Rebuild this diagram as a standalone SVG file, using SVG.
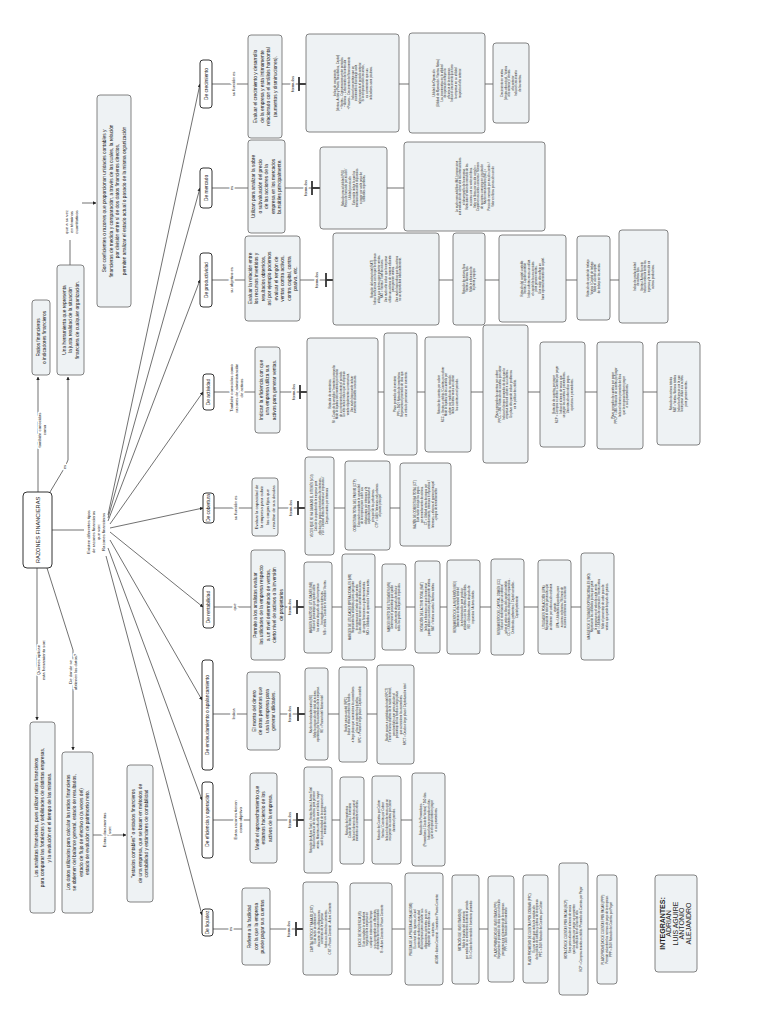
<svg xmlns="http://www.w3.org/2000/svg" width="768" height="1024" viewBox="0 0 768 1024">
<defs>
<marker id="ah" viewBox="0 0 10 10" refX="9" refY="5" markerWidth="5" markerHeight="5" orient="auto"><path d="M0,0 L10,5 L0,10 z" fill="#222"/></marker>
</defs>
<style>
rect.b{fill:#eef2f4;stroke:#666;stroke-width:0.8}
rect.w{fill:#fff;stroke:#333;stroke-width:1}
.c line,.c path{stroke:#333;stroke-width:0.7;fill:none}
.c .a{marker-end:url(#ah)}
.c .k{stroke-width:1.8}
text{font-family:"Liberation Sans",Arial,sans-serif;text-anchor:middle;fill:#222}
.m{font-size:5.6px}
.d{font-size:4.8px}
.l{font-size:4.2px;paint-order:stroke;stroke:#fff;stroke-width:3px}
.f{font-size:2.8px}
.g{font-size:7px}
</style>
<rect width="768" height="1024" fill="#fff"/>
<g class="c" id="connectors">
<path class="a" d="M38,492 V377"/>
<path class="a" d="M50,492 L65,467 L68,460 V377"/>
<path d="M70,265 V240"/>
<path class="a" d="M82,203 H96"/>
<path class="a" d="M37,568 V720"/>
<path class="a" d="M47,568 L73,650 V750"/>
<path class="a" d="M93,835 H126"/>
<path d="M52,530 H84"/>
<line class="a" x1="108" y1="515" x2="200" y2="84"/>
<line class="a" x1="108" y1="518" x2="200" y2="188"/>
<line class="a" x1="108" y1="521" x2="200" y2="280"/>
<line class="a" x1="110" y1="524" x2="203" y2="392"/>
<line class="a" x1="110" y1="528" x2="203" y2="508"/>
<line class="a" x1="110" y1="532" x2="203" y2="607"/>
<line class="a" x1="110" y1="540" x2="202" y2="700"/>
<line class="a" x1="108" y1="548" x2="202" y2="800"/>
<line class="a" x1="106" y1="556" x2="202" y2="915"/>
<line x1="212" y1="84" x2="493" y2="84"/>
<line x1="212" y1="188" x2="404" y2="188"/>
<line x1="212" y1="280" x2="619" y2="280"/>
<line x1="214" y1="392" x2="657" y2="392"/>
<line x1="214" y1="508" x2="400" y2="508"/>
<line x1="214" y1="607" x2="581" y2="607"/>
<line x1="213" y1="714" x2="377" y2="714"/>
<line x1="213" y1="820" x2="412" y2="820"/>
<line x1="213" y1="929" x2="597" y2="929"/>
<line class="k" x1="299" y1="84" x2="306" y2="84"/><line class="k" x1="299" y1="77" x2="299" y2="91"/>
<line class="k" x1="312" y1="188" x2="320" y2="188"/><line class="k" x1="312" y1="181" x2="312" y2="195"/>
<line class="k" x1="326" y1="280" x2="333" y2="280"/><line class="k" x1="326" y1="273" x2="326" y2="287"/>
<line class="k" x1="300" y1="392" x2="307" y2="392"/><line class="k" x1="300" y1="385" x2="300" y2="399"/>
<line class="k" x1="298" y1="508" x2="305" y2="508"/><line class="k" x1="298" y1="501" x2="298" y2="515"/>
<line class="k" x1="297" y1="607" x2="304" y2="607"/><line class="k" x1="297" y1="600" x2="297" y2="614"/>
<line class="k" x1="298" y1="714" x2="305" y2="714"/><line class="k" x1="298" y1="707" x2="298" y2="721"/>
<line class="k" x1="297" y1="820" x2="304" y2="820"/><line class="k" x1="297" y1="813" x2="297" y2="827"/>
<line class="k" x1="296" y1="929" x2="303" y2="929"/><line class="k" x1="296" y1="922" x2="296" y2="936"/>
</g>
<g id="labels">
<text class="l" transform="translate(42,430) rotate(-90)"><tspan x="0" dy="-1.2">también conocidas</tspan><tspan x="0" dy="5">como</tspan></text>
<text class="l" transform="translate(66,467) rotate(-90)">es</text>
<text class="l" transform="translate(72,222) rotate(-90)"><tspan x="0" dy="-3.7">que a su vez</tspan><tspan x="0" dy="5">en términos</tspan><tspan x="0" dy="5">cuantitativos</tspan></text>
<text class="l" transform="translate(41,660) rotate(-90)"><tspan x="0" dy="-1.2">Quienes aplican</tspan><tspan x="0" dy="5">esta herramienta son:</tspan></text>
<text class="l" transform="translate(73,672) rotate(-90)"><tspan x="0" dy="-1.2">De donde se</tspan><tspan x="0" dy="5">obtienen los datos?</tspan></text>
<text class="l" transform="translate(107,830) rotate(-90)"><tspan x="0" dy="-1.2">Estos documentos</tspan><tspan x="0" dy="5">son:</tspan></text>
<text class="l" transform="translate(96,532) rotate(-90)"><tspan x="0" dy="-6.2">Existen diferentes tipos</tspan><tspan x="0" dy="5">de razones financieras</tspan><tspan x="0" dy="5">que son:</tspan><tspan x="0" dy="5">Razones financieras</tspan></text>
<text class="l" transform="translate(235,84) rotate(-90)">su función es</text>
<text class="l" transform="translate(233,188) rotate(-90)">es</text>
<text class="l" transform="translate(233,280) rotate(-90)">su objetivo es</text>
<text class="l" transform="translate(237,388) rotate(-90)"><tspan x="0" dy="-3.7">También conocidas como</tspan><tspan x="0" dy="5">razones de administración</tspan><tspan x="0" dy="5">de activos</tspan></text>
<text class="l" transform="translate(237,508) rotate(-90)">su función es</text>
<text class="l" transform="translate(236,607) rotate(-90)">que</text>
<text class="l" transform="translate(235,714) rotate(-90)">Indica</text>
<text class="l" transform="translate(238,820) rotate(-90)"><tspan x="0" dy="-1.2">Estas razones tienen</tspan><tspan x="0" dy="5">como objetivo</tspan></text>
<text class="l" transform="translate(232,929) rotate(-90)">es</text>
<text class="l" transform="translate(294,84) rotate(-90)">formulas</text>
<text class="l" transform="translate(307,188) rotate(-90)">formulas</text>
<text class="l" transform="translate(318,280) rotate(-90)">formulas</text>
<text class="l" transform="translate(295,392) rotate(-90)">formulas</text>
<text class="l" transform="translate(292,508) rotate(-90)">formulas</text>
<text class="l" transform="translate(291,607) rotate(-90)">formulas</text>
<text class="l" transform="translate(291,714) rotate(-90)">formulas</text>
<text class="l" transform="translate(291,820) rotate(-90)">formulas</text>
<text class="l" transform="translate(290,929) rotate(-90)">formulas</text>
</g>
<g id="razones"><rect class="w" x="23" y="492" width="29" height="76" rx="4"/><text class="m" transform="translate(37.5,530) rotate(-90)" dy="2">RAZONES FINANCIERAS</text></g>
<g id="ratios"><rect class="b" x="32" y="300" width="18" height="75" rx="3"/><text class="d" transform="translate(41,337.5) rotate(-90)"><tspan x="0" dy="-1.5">Ratios financieros</tspan><tspan x="0" dy="6.5">o indicadores financieros</tspan></text></g>
<g id="herramienta"><rect class="b" x="57" y="265" width="27" height="110" rx="3"/><text class="d" transform="translate(70.5,320) rotate(-90)"><tspan x="0" dy="-4.8">Una herramienta que representa</tspan><tspan x="0" dy="6.5">la justa realidad de la situación</tspan><tspan x="0" dy="6.5">financiera de cualquier organización.</tspan></text></g>
<g id="coeficientes"><rect class="b" x="97" y="95" width="34" height="212" rx="3"/><text class="d" transform="translate(114,201) rotate(-90)"><tspan x="0" dy="-8">Son coeficientes o razones que proporcionan unidades contables y</tspan><tspan x="0" dy="6.5">financieras de medida y comparación, a través de las cuales, la relación</tspan><tspan x="0" dy="6.5">por división entre sí de dos datos financieros directos,</tspan><tspan x="0" dy="6.5">permiten analizar el estado actual o pasado de la misma organización</tspan></text></g>
<g id="analistas"><rect class="b" x="30" y="722" width="25" height="191" rx="3"/><text class="d" transform="translate(42.5,817.5) rotate(-90)"><tspan x="0" dy="-4.8">Los analistas financieros, pues utilizan ratios financieros</tspan><tspan x="0" dy="6.5">para comparar las fortalezas y debilidades de distintas empresas,</tspan><tspan x="0" dy="6.5">y la evolución en el tiempo de las mismas.</tspan></text></g>
<g id="datos"><rect class="b" x="62" y="752" width="31" height="161" rx="3"/><text class="d" transform="translate(77.5,832.5) rotate(-90)"><tspan x="0" dy="-8">Los datos utilizados para calcular las ratios financieras</tspan><tspan x="0" dy="6.5">se obtienen del balance general, estado de resultados,</tspan><tspan x="0" dy="6.5">estado de flujo de efectivo o (a veces del)</tspan><tspan x="0" dy="6.5">estado de evolución de patrimonio neto.</tspan></text></g>
<g id="contables"><rect class="b" x="127" y="765" width="26" height="137" rx="3"/><text class="d" transform="translate(140,833.5) rotate(-90)"><tspan x="0" dy="-4.8">"estados contables" o estados financieros</tspan><tspan x="0" dy="6.5">de una empresa, que se basan en métodos de</tspan><tspan x="0" dy="6.5">contabilidad y estándares de contabilidad</tspan></text></g>
<g id="p-crecimiento"><rect class="w" x="200" y="60" width="12" height="48" rx="3"/><text class="d" transform="translate(206,84) rotate(-90)" dy="1.7">De crecimiento</text></g>
<g id="p-mercado"><rect class="w" x="200" y="168" width="12" height="40" rx="3"/><text class="d" transform="translate(206,188) rotate(-90)" dy="1.7">De mercado</text></g>
<g id="p-productividad"><rect class="w" x="200" y="253" width="12" height="54" rx="3"/><text class="d" transform="translate(206,280) rotate(-90)" dy="1.7">De productividad</text></g>
<g id="p-actividad"><rect class="w" x="203" y="374" width="11" height="36" rx="3"/><text class="d" transform="translate(208.5,392) rotate(-90)" dy="1.7">De actividad</text></g>
<g id="p-cobertura"><rect class="w" x="203" y="493" width="11" height="30" rx="3"/><text class="d" transform="translate(208.5,508) rotate(-90)" dy="1.7">De cobertura</text></g>
<g id="p-rentabilidad"><rect class="w" x="203" y="586" width="11" height="42" rx="3"/><text class="d" transform="translate(208.5,607) rotate(-90)" dy="1.7">De rentabilidad</text></g>
<g id="p-endeudamiento"><rect class="w" x="202" y="660" width="11" height="110" rx="3"/><text class="d" transform="translate(207.5,715) rotate(-90)" dy="1.7">De endeudamiento o apalancamiento</text></g>
<g id="p-eficiencia"><rect class="w" x="202" y="782" width="11" height="76" rx="3"/><text class="d" transform="translate(207.5,820) rotate(-90)" dy="1.7">De eficiencia y operación</text></g>
<g id="p-liquidez"><rect class="w" x="202" y="909" width="11" height="27" rx="3"/><text class="d" transform="translate(207.5,922.5) rotate(-90)" dy="1.7">De liquidez</text></g>
<g id="d-crecimiento"><rect class="b" x="248" y="35" width="34" height="103" rx="3"/><text class="d" transform="translate(265,86.5) rotate(-90)"><tspan x="0" dy="-8">Evaluar el crecimiento y desarrollo</tspan><tspan x="0" dy="6.5">de la empresa y esta íntimamente</tspan><tspan x="0" dy="6.5">relacionado con el análisis horizontal</tspan><tspan x="0" dy="6.5">(aumentos y disminuciones).</tspan></text></g>
<g id="d-mercado"><rect class="b" x="248" y="140" width="37" height="93" rx="3"/><text class="d" transform="translate(266.5,186.5) rotate(-90)"><tspan x="0" dy="-11.3">Utilizan para analizar la sobre</tspan><tspan x="0" dy="6.5">o subvaluación del precio</tspan><tspan x="0" dy="6.5">de las acciones de la</tspan><tspan x="0" dy="6.5">empresa en los mercados</tspan><tspan x="0" dy="6.5">bursátiles principalmente.</tspan></text></g>
<g id="d-productividad"><rect class="b" x="245" y="236" width="55" height="85" rx="3"/><text class="d" transform="translate(272.5,278.5) rotate(-90)"><tspan x="0" dy="-21">Evaluar la relación entre</tspan><tspan x="0" dy="6.5">los recursos invertidos y</tspan><tspan x="0" dy="6.5">resultados obtenidos,</tspan><tspan x="0" dy="6.5">así por ejemplo podemos</tspan><tspan x="0" dy="6.5">evaluar el rengón de</tspan><tspan x="0" dy="6.5">ventas contra activos,</tspan><tspan x="0" dy="6.5">contra capital, contra</tspan><tspan x="0" dy="6.5">pasivo, etc.</tspan></text></g>
<g id="d-actividad"><rect class="b" x="255" y="347" width="25" height="86" rx="3"/><text class="d" transform="translate(267.5,390) rotate(-90)"><tspan x="0" dy="-4.8">Indican la eficiencia con que</tspan><tspan x="0" dy="6.5">una empresa utiliza sus</tspan><tspan x="0" dy="6.5">activos para generar ventas.</tspan></text></g>
<g id="d-cobertura"><rect class="b" x="252" y="478" width="26" height="58" rx="3"/><text class="d" style="font-size:4.2px" transform="translate(265,507) rotate(-90)"><tspan x="0" dy="-7.4">Evaluar la capacidad de</tspan><tspan x="0" dy="5.8">la empresa para cubrir</tspan><tspan x="0" dy="5.8">los cargos fijos que</tspan><tspan x="0" dy="5.8">resultan de sus deudas</tspan></text></g>
<g id="d-rentabilidad"><rect class="b" x="251" y="550" width="34" height="110" rx="3"/><text class="d" transform="translate(268,605) rotate(-90)"><tspan x="0" dy="-11.3">Permite a los analistas evaluar</tspan><tspan x="0" dy="6.5">las utilidades de la empresa respecto</tspan><tspan x="0" dy="6.5">a un nivel determinado de ventas,</tspan><tspan x="0" dy="6.5">cierto nivel de activos o la inversión</tspan><tspan x="0" dy="6.5">de propietarios</tspan></text></g>
<g id="d-endeudamiento"><rect class="b" x="247" y="672" width="33" height="78" rx="3"/><text class="d" transform="translate(263.5,711) rotate(-90)"><tspan x="0" dy="-8">El monto del dinero</tspan><tspan x="0" dy="6.5">de otras personas que</tspan><tspan x="0" dy="6.5">usa la empresa para</tspan><tspan x="0" dy="6.5">generar utilidades.</tspan></text></g>
<g id="d-eficiencia"><rect class="b" x="250" y="773" width="27" height="90" rx="3"/><text class="d" transform="translate(263.5,818) rotate(-90)"><tspan x="0" dy="-4.8">Medir el aprovechamiento que</tspan><tspan x="0" dy="6.5">estamos haciendo de los</tspan><tspan x="0" dy="6.5">activos de la empresa.</tspan></text></g>
<g id="d-liquidez"><rect class="b" x="242" y="888" width="28" height="77" rx="3"/><text class="d" transform="translate(256,926.5) rotate(-90)"><tspan x="0" dy="-4.8">Refiere a la facilidad</tspan><tspan x="0" dy="6.5">con la que la empresa</tspan><tspan x="0" dy="6.5">puede pagar sus cuentas</tspan></text></g>

<g id="f-c1"><rect class="b" x="306" y="34" width="93" height="98" rx="3"/><text class="f" transform="translate(352.5,83) rotate(-90)"><tspan x="0" dy="-17">Índice de crecimiento</tspan><tspan x="0" dy="3.6">(Ventas, Activo y Pasivo, Resultados, Capital)</tspan><tspan x="0" dy="3.6">• Ventas - Comparaciones entre períodos</tspan><tspan x="0" dy="3.6">• Activos - Crecimiento de la inversión</tspan><tspan x="0" dy="3.6">• Pasivos - Crecimiento del financiamiento</tspan><tspan x="0" dy="3.6">Indica el porcentaje que se</tspan><tspan x="0" dy="3.6">incrementa o disminuye cada</tspan><tspan x="0" dy="3.6">rubro respecto al período anterior.</tspan><tspan x="0" dy="3.6">Si la empresa está creciendo,</tspan><tspan x="0" dy="3.6">es conveniente que sus</tspan><tspan x="0" dy="3.6">indicadores sean positivos.</tspan></text></g>
<g id="f-c2"><rect class="b" x="409" y="33" width="76" height="100" rx="3"/><text class="f" transform="translate(447,83) rotate(-90)"><tspan x="0" dy="-11.6">Utilidad de Operación</tspan><tspan x="0" dy="3.6">(Utilidad de Operación / Ventas Netas)</tspan><tspan x="0" dy="3.6">Los incrementos en la utilidad</tspan><tspan x="0" dy="3.6">de operación reflejan la</tspan><tspan x="0" dy="3.6">eficiencia de la empresa.</tspan><tspan x="0" dy="3.6">Indica el crecimiento que tuvo</tspan><tspan x="0" dy="3.6">la empresa en su utilidad</tspan><tspan x="0" dy="3.6">respecto al año anterior.</tspan></text></g>
<g id="f-c3"><rect class="b" x="493" y="43" width="36" height="80" rx="3"/><text class="f" transform="translate(511,83) rotate(-90)"><tspan x="0" dy="-8">Crecimiento en ventas</tspan><tspan x="0" dy="3.6">(Ventas año actual - Ventas</tspan><tspan x="0" dy="3.6">año anterior) / Ventas</tspan><tspan x="0" dy="3.6">año anterior</tspan><tspan x="0" dy="3.6">Indica el crecimiento</tspan><tspan x="0" dy="3.6">de las ventas.</tspan></text></g>

<g id="f-m1"><rect class="b" x="320" y="147" width="67" height="82" rx="3"/><text class="f" transform="translate(353.5,188) rotate(-90)"><tspan x="0" dy="-9.8">Relación precio/utilidad (P/U)</tspan><tspan x="0" dy="3.6">Precio de mercado por acción /</tspan><tspan x="0" dy="3.6">Utilidad por acción</tspan><tspan x="0" dy="3.6">Esta razón indica lo que los</tspan><tspan x="0" dy="3.6">inversionistas están dispuestos</tspan><tspan x="0" dy="3.6">a pagar por cada peso de</tspan><tspan x="0" dy="3.6">utilidades reportadas.</tspan></text></g>
<g id="f-m2"><rect class="b" x="404" y="142" width="141" height="89" rx="3"/><text class="f" transform="translate(474.5,186.5) rotate(-90)"><tspan x="0" dy="-17">La razón mercado/libro (M/L) proporciona</tspan><tspan x="0" dy="3.6">una evaluación de cómo ven los inversionistas</tspan><tspan x="0" dy="3.6">el desempeño de la empresa.</tspan><tspan x="0" dy="3.6">Relaciona el valor de mercado de las</tspan><tspan x="0" dy="3.6">acciones con su valor en libros.</tspan><tspan x="0" dy="3.6">Valor en libros por acción común =</tspan><tspan x="0" dy="3.6">Capital en acciones comunes / Número</tspan><tspan x="0" dy="3.6">de acciones comunes en circulación</tspan><tspan x="0" dy="3.6">Razón mercado/libro (M/L) =</tspan><tspan x="0" dy="3.6">Precio de mercado por acción común /</tspan><tspan x="0" dy="3.6">Valor en libros por acción común</tspan></text></g>

<g id="f-p1"><rect class="b" x="333" y="233" width="106" height="92" rx="3"/><text class="f" transform="translate(386,279) rotate(-90)"><tspan x="0" dy="-13.4">Rotación del activo total (RAT)</tspan><tspan x="0" dy="3.6">Indica la eficiencia con la que la empresa</tspan><tspan x="0" dy="3.6">utiliza sus activos para generar ventas.</tspan><tspan x="0" dy="3.6">RAT = Ventas / Total de activos</tspan><tspan x="0" dy="3.6">Una razón alta indica que la empresa</tspan><tspan x="0" dy="3.6">utiliza sus activos de manera eficiente</tspan><tspan x="0" dy="3.6">para generar ventas.</tspan><tspan x="0" dy="3.6">Una razón baja indica que los activos</tspan><tspan x="0" dy="3.6">no se aprovechan adecuadamente.</tspan></text></g>
<g id="f-p2"><rect class="b" x="453" y="233" width="32" height="92" rx="3"/><text class="f" transform="translate(469,279) rotate(-90)"><tspan x="0" dy="-4.4">Rotación de activos fijos</tspan><tspan x="0" dy="3.6">Ventas / Activos fijos</tspan><tspan x="0" dy="3.6">Mide la eficiencia de</tspan><tspan x="0" dy="3.6">la planta y equipo.</tspan></text></g>
<g id="f-p3"><rect class="b" x="499" y="235" width="67" height="87" rx="3"/><text class="f" transform="translate(532.5,278.5) rotate(-90)"><tspan x="0" dy="-9.8">Rotación del capital contable</tspan><tspan x="0" dy="3.6">Ventas / Capital contable</tspan><tspan x="0" dy="3.6">Indica cuántas veces se utiliza</tspan><tspan x="0" dy="3.6">el capital de los accionistas</tspan><tspan x="0" dy="3.6">para generar ventas.</tspan><tspan x="0" dy="3.6">Una razón alta refleja un</tspan><tspan x="0" dy="3.6">buen aprovechamiento del capital.</tspan></text></g>
<g id="f-p4"><rect class="b" x="577" y="236" width="33" height="84" rx="3"/><text class="f" transform="translate(593.5,278) rotate(-90)"><tspan x="0" dy="-4.4">Rotación de capital de trabajo</tspan><tspan x="0" dy="3.6">Ventas / Capital de trabajo</tspan><tspan x="0" dy="3.6">Mide el uso del capital</tspan><tspan x="0" dy="3.6">de trabajo en las ventas.</tspan></text></g>
<g id="f-p5"><rect class="b" x="619" y="230" width="49" height="93" rx="3"/><text class="f" transform="translate(643.5,276.5) rotate(-90)"><tspan x="0" dy="-8">Índice de productividad</tspan><tspan x="0" dy="3.6">de activos fijos</tspan><tspan x="0" dy="3.6">Ventas / Activo fijo neto</tspan><tspan x="0" dy="3.6">Indica la relación entre los</tspan><tspan x="0" dy="3.6">ingresos y la inversión en</tspan><tspan x="0" dy="3.6">activos productivos.</tspan></text></g>

<g id="f-a1"><rect class="b" x="307" y="338" width="71" height="112" rx="3"/><text class="f" transform="translate(342.5,394) rotate(-90)"><tspan x="0" dy="-11.6">Rotación de inventarios</tspan><tspan x="0" dy="3.6">RI = Costo de lo vendido / Inventario promedio</tspan><tspan x="0" dy="3.6">Mide la liquidez del inventario por medio</tspan><tspan x="0" dy="3.6">de su movimiento durante el período.</tspan><tspan x="0" dy="3.6">Un alto índice indica que la empresa</tspan><tspan x="0" dy="3.6">vende rápidamente su mercancía.</tspan><tspan x="0" dy="3.6">Una razón baja puede indicar</tspan><tspan x="0" dy="3.6">inventario obsoleto o excesivo.</tspan></text></g>
<g id="f-a2"><rect class="b" x="384" y="333" width="33" height="122" rx="3"/><text class="f" transform="translate(400.5,394) rotate(-90)"><tspan x="0" dy="-4.4">Plazo promedio de inventario</tspan><tspan x="0" dy="3.6">PPI = 360 / Rotación de inventarios</tspan><tspan x="0" dy="3.6">Representa el promedio de días que</tspan><tspan x="0" dy="3.6">un artículo permanece en inventario.</tspan></text></g>
<g id="f-a3"><rect class="b" x="425" y="337" width="46" height="115" rx="3"/><text class="f" transform="translate(448,394.5) rotate(-90)"><tspan x="0" dy="-8">Rotación de cuentas por cobrar</tspan><tspan x="0" dy="3.6">RCC = Ventas a crédito / Cuentas por cobrar</tspan><tspan x="0" dy="3.6">Mide la liquidez de las cuentas por</tspan><tspan x="0" dy="3.6">cobrar por medio de su rotación.</tspan><tspan x="0" dy="3.6">Indica cuántas veces se cobran</tspan><tspan x="0" dy="3.6">las cuentas en el período.</tspan></text></g>
<g id="f-a4"><rect class="b" x="483" y="325" width="45" height="138" rx="3"/><text class="f" transform="translate(505.5,394) rotate(-90)"><tspan x="0" dy="-8">Plazo promedio de cuentas por cobrar</tspan><tspan x="0" dy="3.6">PPCC = 360 / Rotación de cuentas por cobrar</tspan><tspan x="0" dy="3.6">Indica el número promedio de días que la</tspan><tspan x="0" dy="3.6">empresa tarda en cobrar a sus clientes.</tspan><tspan x="0" dy="3.6">Un plazo alto puede indicar problemas</tspan><tspan x="0" dy="3.6">en la política de crédito.</tspan></text></g>
<g id="f-a5"><rect class="b" x="540" y="342" width="45" height="105" rx="3"/><text class="f" transform="translate(562.5,394.5) rotate(-90)"><tspan x="0" dy="-8">Rotación de cuentas por pagar</tspan><tspan x="0" dy="3.6">RCP = Compras a crédito / Cuentas por pagar</tspan><tspan x="0" dy="3.6">Indica el número de veces que</tspan><tspan x="0" dy="3.6">se pagan las cuentas a proveedores.</tspan><tspan x="0" dy="3.6">Una rotación alta indica pagos</tspan><tspan x="0" dy="3.6">oportunos a proveedores.</tspan></text></g>
<g id="f-a6"><rect class="b" x="597" y="342" width="46" height="107" rx="3"/><text class="f" transform="translate(620,395.5) rotate(-90)"><tspan x="0" dy="-6.2">Plazo promedio de cuentas por pagar</tspan><tspan x="0" dy="3.6">PPCP = 360 / Rotación de cuentas por pagar</tspan><tspan x="0" dy="3.6">Indica el número promedio de días</tspan><tspan x="0" dy="3.6">que la empresa tarda en pagar</tspan><tspan x="0" dy="3.6">a sus proveedores.</tspan></text></g>
<g id="f-a7"><rect class="b" x="657" y="342" width="43" height="103" rx="3"/><text class="f" transform="translate(678.5,393.5) rotate(-90)"><tspan x="0" dy="-6.2">Rotación de activos totales</tspan><tspan x="0" dy="3.6">RAT = Ventas / Activos totales</tspan><tspan x="0" dy="3.6">Indica la eficiencia con la que</tspan><tspan x="0" dy="3.6">la empresa utiliza sus activos</tspan><tspan x="0" dy="3.6">para generar ventas.</tspan></text></g>

<g id="f-b1"><rect class="b" x="305" y="457" width="29" height="98" rx="3"/><text class="f" transform="translate(319.5,506) rotate(-90)"><tspan x="0" dy="-6.2">VECES QUE SE HA GANADO EL INTERÉS (VGI)</tspan><tspan x="0" dy="3.6">Calcula la capacidad de la empresa para</tspan><tspan x="0" dy="3.6">efectuar los pagos contractuales de intereses.</tspan><tspan x="0" dy="3.6">VGI = Utilidad antes de intereses e impuestos /</tspan><tspan x="0" dy="3.6">Cargos anuales por intereses</tspan></text></g>
<g id="f-b2"><rect class="b" x="345" y="461" width="45" height="89" rx="3"/><text class="f" transform="translate(367.5,505.5) rotate(-90)"><tspan x="0" dy="-11.6">COBERTURA TOTAL DEL PASIVO (CTP)</tspan><tspan x="0" dy="3.6">Esta razón considera la capacidad</tspan><tspan x="0" dy="3.6">de la empresa para cubrir sus</tspan><tspan x="0" dy="3.6">obligaciones por intereses y la</tspan><tspan x="0" dy="3.6">capacidad para reembolsar el</tspan><tspan x="0" dy="3.6">principal de los préstamos.</tspan><tspan x="0" dy="3.6">CTP = UAII / Intereses más abonos</tspan><tspan x="0" dy="3.6">al pasivo principal</tspan></text></g>
<g id="f-b3"><rect class="b" x="400" y="463" width="51" height="83" rx="3"/><text class="f" transform="translate(425.5,504.5) rotate(-90)"><tspan x="0" dy="-9.8">RAZÓN DE COBERTURA TOTAL (CT)</tspan><tspan x="0" dy="3.6">Esta razón incluye los pagos</tspan><tspan x="0" dy="3.6">por arrendamiento de activos.</tspan><tspan x="0" dy="3.6">CT = Utilidad antes de pagos por</tspan><tspan x="0" dy="3.6">arrendamiento, intereses e impuestos /</tspan><tspan x="0" dy="3.6">Intereses + abonos al pasivo principal</tspan><tspan x="0" dy="3.6">+ pagos de arrendamiento</tspan></text></g>

<g id="f-r1"><rect class="b" x="304" y="562" width="28" height="91" rx="3"/><text class="f" transform="translate(318,607.5) rotate(-90)"><tspan x="0" dy="-6.2">MARGEN BRUTO DE UTILIDADES (MB)</tspan><tspan x="0" dy="3.6">Indica el porcentaje que queda sobre</tspan><tspan x="0" dy="3.6">las ventas después de que la empresa</tspan><tspan x="0" dy="3.6">ha pagado sus existencias.</tspan><tspan x="0" dy="3.6">MB = Ventas - Costo de lo Vendido / Ventas</tspan></text></g>
<g id="f-r2"><rect class="b" x="342" y="554" width="33" height="106" rx="3"/><text class="f" transform="translate(358.5,607) rotate(-90)"><tspan x="0" dy="-8">MARGEN DE UTILIDADES OPERACIONALES (MO)</tspan><tspan x="0" dy="3.6">Representa las utilidades puras que gana</tspan><tspan x="0" dy="3.6">la empresa en el valor de cada venta.</tspan><tspan x="0" dy="3.6">Estas deben tomar en cuenta deducciones</tspan><tspan x="0" dy="3.6">de cargos financieros o gubernamentales.</tspan><tspan x="0" dy="3.6">MO = Utilidades de operación / Ventas netas</tspan></text></g>
<g id="f-r3"><rect class="b" x="382" y="564" width="24" height="86" rx="3"/><text class="f" transform="translate(394,607) rotate(-90)"><tspan x="0" dy="-4.4">MARGEN NETO DE UTILIDADES (MN)</tspan><tspan x="0" dy="3.6">Determina el porcentaje que queda</tspan><tspan x="0" dy="3.6">en cada venta después de deducir</tspan><tspan x="0" dy="3.6">todos los gastos incluyendo impuestos.</tspan></text></g>
<g id="f-r4"><rect class="b" x="415" y="561" width="25" height="92" rx="3"/><text class="f" transform="translate(427.5,607) rotate(-90)"><tspan x="0" dy="-4.4">ROTACIÓN DEL ACTIVO TOTAL (RAT)</tspan><tspan x="0" dy="3.6">Indica la eficiencia con que la empresa</tspan><tspan x="0" dy="3.6">puede utilizar sus activos para generar ventas.</tspan><tspan x="0" dy="3.6">RAT = Ventas anuales / Activos totales</tspan></text></g>
<g id="f-r5"><rect class="b" x="447" y="560" width="33" height="94" rx="3"/><text class="f" transform="translate(463.5,607) rotate(-90)"><tspan x="0" dy="-8">RENDIMIENTO DE LA INVERSIÓN (REI)</tspan><tspan x="0" dy="3.6">Determina la efectividad total de</tspan><tspan x="0" dy="3.6">la administración para producir</tspan><tspan x="0" dy="3.6">utilidades con los activos disponibles.</tspan><tspan x="0" dy="3.6">REI = Utilidades netas después de</tspan><tspan x="0" dy="3.6">impuestos / Activos totales</tspan></text></g>
<g id="f-r6"><rect class="b" x="491" y="559" width="33" height="96" rx="3"/><text class="f" transform="translate(507.5,607) rotate(-90)"><tspan x="0" dy="-8">RENDIMIENTO DEL CAPITAL COMÚN (CC)</tspan><tspan x="0" dy="3.6">Indica el rendimiento que se obtiene</tspan><tspan x="0" dy="3.6">sobre el valor en libros del capital contable.</tspan><tspan x="0" dy="3.6">CC = Utilidades netas después de impuestos -</tspan><tspan x="0" dy="3.6">Dividendos preferentes / Capital contable -</tspan><tspan x="0" dy="3.6">Capital preferente</tspan></text></g>
<g id="f-r7"><rect class="b" x="538" y="560" width="33" height="94" rx="3"/><text class="f" transform="translate(554.5,607) rotate(-90)"><tspan x="0" dy="-9.8">UTILIDADES POR ACCIÓN (UPA)</tspan><tspan x="0" dy="3.6">Representa el total de ganancias que</tspan><tspan x="0" dy="3.6">se obtienen por cada acción ordinaria</tspan><tspan x="0" dy="3.6">vigente.</tspan><tspan x="0" dy="3.6">UPA = Utilidades disponibles para</tspan><tspan x="0" dy="3.6">acciones ordinarias / Número de</tspan><tspan x="0" dy="3.6">acciones ordinarias en circulación</tspan></text></g>
<g id="f-r8"><rect class="b" x="581" y="553" width="33" height="107" rx="3"/><text class="f" transform="translate(597.5,606.5) rotate(-90)"><tspan x="0" dy="-8">MARGEN DE UTILIDADES OPERACIONALES (MO)</tspan><tspan x="0" dy="3.6">Representa las utilidades puras que gana</tspan><tspan x="0" dy="3.6">la empresa en el valor de cada venta.</tspan><tspan x="0" dy="3.6">MO = Utilidades de operación / Ventas netas</tspan><tspan x="0" dy="3.6">Mide el porcentaje de cada peso de</tspan><tspan x="0" dy="3.6">ventas que queda después de gastos.</tspan></text></g>

<g id="f-e1"><rect class="b" x="305" y="668" width="23" height="92" rx="3"/><text class="f" transform="translate(316.5,714) rotate(-90)"><tspan x="0" dy="-4.4">Razón de endeudamiento (RE)</tspan><tspan x="0" dy="3.6">Mide la proporción del total de activos</tspan><tspan x="0" dy="3.6">aportados por los acreedores de la empresa.</tspan><tspan x="0" dy="3.6">RE = Pasivo total / Activo total</tspan></text></g>
<g id="f-e2"><rect class="b" x="339" y="667" width="28" height="95" rx="3"/><text class="f" transform="translate(353,714.5) rotate(-90)"><tspan x="0" dy="-6.2">Razón pasivo-capital (RPC)</tspan><tspan x="0" dy="3.6">Indica la relación entre los fondos</tspan><tspan x="0" dy="3.6">a largo plazo que suministran los acreedores</tspan><tspan x="0" dy="3.6">y los que aportan los dueños.</tspan><tspan x="0" dy="3.6">RPC = Pasivo a largo plazo / Capital contable</tspan></text></g>
<g id="f-e3"><rect class="b" x="377" y="665" width="37" height="99" rx="3"/><text class="f" transform="translate(395.5,714.5) rotate(-90)"><tspan x="0" dy="-8">Razón pasivo a capitalización total (RPCT)</tspan><tspan x="0" dy="3.6">Tiene el mismo objetivo de la razón anterior,</tspan><tspan x="0" dy="3.6">pero también sirve para calcular el</tspan><tspan x="0" dy="3.6">porcentaje de los fondos a largo plazo</tspan><tspan x="0" dy="3.6">que suministran los acreedores.</tspan><tspan x="0" dy="3.6">RPCT = Deuda a largo plazo / Capitalización total</tspan></text></g>

<g id="f-f1"><rect class="b" x="304" y="767" width="28" height="106" rx="3"/><text class="f" transform="translate(318,820) rotate(-90)"><tspan x="0" dy="-6.2">Rotación de Activo Total = Ventas Netas / Activo Total</tspan><tspan x="0" dy="3.6">Indica la eficiencia de los activos para generar</tspan><tspan x="0" dy="3.6">ventas. Mientras más alto sea el índice, mayor</tspan><tspan x="0" dy="3.6">será la productividad de la empresa en el</tspan><tspan x="0" dy="3.6">manejo de sus activos.</tspan></text></g>
<g id="f-f2"><rect class="b" x="340" y="777" width="24" height="87" rx="3"/><text class="f" transform="translate(352,820.5) rotate(-90)"><tspan x="0" dy="-4.4">Rotación de Inventarios</tspan><tspan x="0" dy="3.6">Costo de Ventas / Inventario</tspan><tspan x="0" dy="3.6">Indica el número de veces que el</tspan><tspan x="0" dy="3.6">inventario se convierte en ventas.</tspan></text></g>
<g id="f-f3"><rect class="b" x="372" y="776" width="29" height="88" rx="3"/><text class="f" transform="translate(386.5,820) rotate(-90)"><tspan x="0" dy="-6.2">Rotación de Cuentas por Cobrar</tspan><tspan x="0" dy="3.6">Ventas / Cuentas por Cobrar</tspan><tspan x="0" dy="3.6">Indica el número de veces que se</tspan><tspan x="0" dy="3.6">recuperan las cuentas por cobrar</tspan><tspan x="0" dy="3.6">durante el período.</tspan></text></g>
<g id="f-f4"><rect class="b" x="412" y="773" width="33" height="93" rx="3"/><text class="f" transform="translate(428.5,819.5) rotate(-90)"><tspan x="0" dy="-6.2">Rotación de Proveedores</tspan><tspan x="0" dy="3.6">(Proveedores / Costo de Ventas) * 360 días</tspan><tspan x="0" dy="3.6">Indica el plazo promedio en días</tspan><tspan x="0" dy="3.6">que la empresa tarda en pagar</tspan><tspan x="0" dy="3.6">a sus proveedores.</tspan></text></g>

<g id="f-l1"><rect class="b" x="303" y="882" width="35" height="93" rx="3"/><text class="f" transform="translate(320.5,928.5) rotate(-90)"><tspan x="0" dy="-8">CAPITAL NETO DE TRABAJO (CNT):</tspan><tspan x="0" dy="3.6">Esta razón se obtiene al</tspan><tspan x="0" dy="3.6">descontar de las obligaciones</tspan><tspan x="0" dy="3.6">corrientes de la empresa</tspan><tspan x="0" dy="3.6">todos sus derechos corrientes.</tspan><tspan x="0" dy="3.6">CNT = Pasivo Corriente - Activo Corriente</tspan></text></g>
<g id="f-l2"><rect class="b" x="350" y="883" width="42" height="92" rx="3"/><text class="f" transform="translate(371,929) rotate(-90)"><tspan x="0" dy="-9.8">ÍNDICE DE SOLVENCIA (IS):</tspan><tspan x="0" dy="3.6">Este considera la verdadera</tspan><tspan x="0" dy="3.6">magnitud de la empresa en</tspan><tspan x="0" dy="3.6">cualquier instancia del tiempo</tspan><tspan x="0" dy="3.6">y es comparable con diferentes</tspan><tspan x="0" dy="3.6">entidades de la misma actividad.</tspan><tspan x="0" dy="3.6">IS = Activo Corriente / Pasivo Corriente</tspan></text></g>
<g id="f-l3"><rect class="b" x="405" y="873" width="38" height="112" rx="3"/><text class="f" transform="translate(424,929) rotate(-90)"><tspan x="0" dy="-11.6">PRUEBA DE LA PRUEBA ÁCIDA (ÁCIDO):</tspan><tspan x="0" dy="3.6">Es un test más riguroso, el cual</tspan><tspan x="0" dy="3.6">pretende verificar la capacidad</tspan><tspan x="0" dy="3.6">de la empresa para cancelar sus</tspan><tspan x="0" dy="3.6">obligaciones corrientes pero sin</tspan><tspan x="0" dy="3.6">depender de la venta de sus</tspan><tspan x="0" dy="3.6">existencias.</tspan><tspan x="0" dy="3.6">ÁCIDO = Activo Corriente - Inventario / Pasivo Corriente</tspan></text></g>
<g id="f-l4"><rect class="b" x="452" y="875" width="27" height="109" rx="3"/><text class="f" transform="translate(465.5,929.5) rotate(-90)"><tspan x="0" dy="-4.4">ROTACIÓN DE INVENTARIO (RI):</tspan><tspan x="0" dy="3.6">Mide la liquidez del inventario</tspan><tspan x="0" dy="3.6">por medio de su movimiento durante el período.</tspan><tspan x="0" dy="3.6">RI = Costo de lo vendido / Inventario promedio</tspan></text></g>
<g id="f-l5"><rect class="b" x="488" y="876" width="26" height="106" rx="3"/><text class="f" transform="translate(501,929) rotate(-90)"><tspan x="0" dy="-4.4">PLAZO PROMEDIO DE INVENTARIO (PPI):</tspan><tspan x="0" dy="3.6">Representa el promedio de días que un artículo</tspan><tspan x="0" dy="3.6">permanece en el inventario de la empresa.</tspan><tspan x="0" dy="3.6">PPI = 360 / Rotación del Inventario</tspan></text></g>
<g id="f-l6"><rect class="b" x="523" y="875" width="25" height="108" rx="3"/><text class="f" transform="translate(535.5,929) rotate(-90)"><tspan x="0" dy="-4.4">PLAZO PROMEDIO DE CUENTAS POR COBRAR (PPC):</tspan><tspan x="0" dy="3.6">Es una razón que indica la evaluación</tspan><tspan x="0" dy="3.6">de la política de créditos y cobros de la empresa.</tspan><tspan x="0" dy="3.6">PPC = 360 / Rotación de Cuentas por Cobrar</tspan></text></g>
<g id="f-l7"><rect class="b" x="559" y="863" width="29" height="132" rx="3"/><text class="f" transform="translate(573.5,929) rotate(-90)"><tspan x="0" dy="-6.2">ROTACIÓN DE CUENTAS POR PAGAR (RCP):</tspan><tspan x="0" dy="3.6">Sirve para calcular el número de veces</tspan><tspan x="0" dy="3.6">que las cuentas por pagar se convierten</tspan><tspan x="0" dy="3.6">en efectivo en el curso del año.</tspan><tspan x="0" dy="3.6">RCP = Compras anuales a crédito / Promedio de Cuentas por Pagar</tspan></text></g>
<g id="f-l8"><rect class="b" x="597" y="875" width="20" height="109" rx="3"/><text class="f" transform="translate(607,929.5) rotate(-90)"><tspan x="0" dy="-2.6">PLAZO PROMEDIO DE CUENTAS POR PAGAR (PPP):</tspan><tspan x="0" dy="3.6">Permite vislumbrar las normas de pago de la empresa.</tspan><tspan x="0" dy="3.6">PPP = 360 / Rotación de Cuentas por Pagar</tspan></text></g>

<g id="integrantes"><rect class="b" x="655" y="875" width="42" height="97" rx="3"/><text class="g" transform="translate(676,923.5) rotate(-90)"><tspan x="0" dy="-11.5" font-weight="bold">INTEGRANTES:</tspan><tspan x="0" dy="6.5">ADRIAN</tspan><tspan x="0" dy="6.5">LUIS AGUIRE</tspan><tspan x="0" dy="6.5">ANTONIO</tspan><tspan x="0" dy="6.5">ALEJANDRO</tspan></text></g>
</svg>
